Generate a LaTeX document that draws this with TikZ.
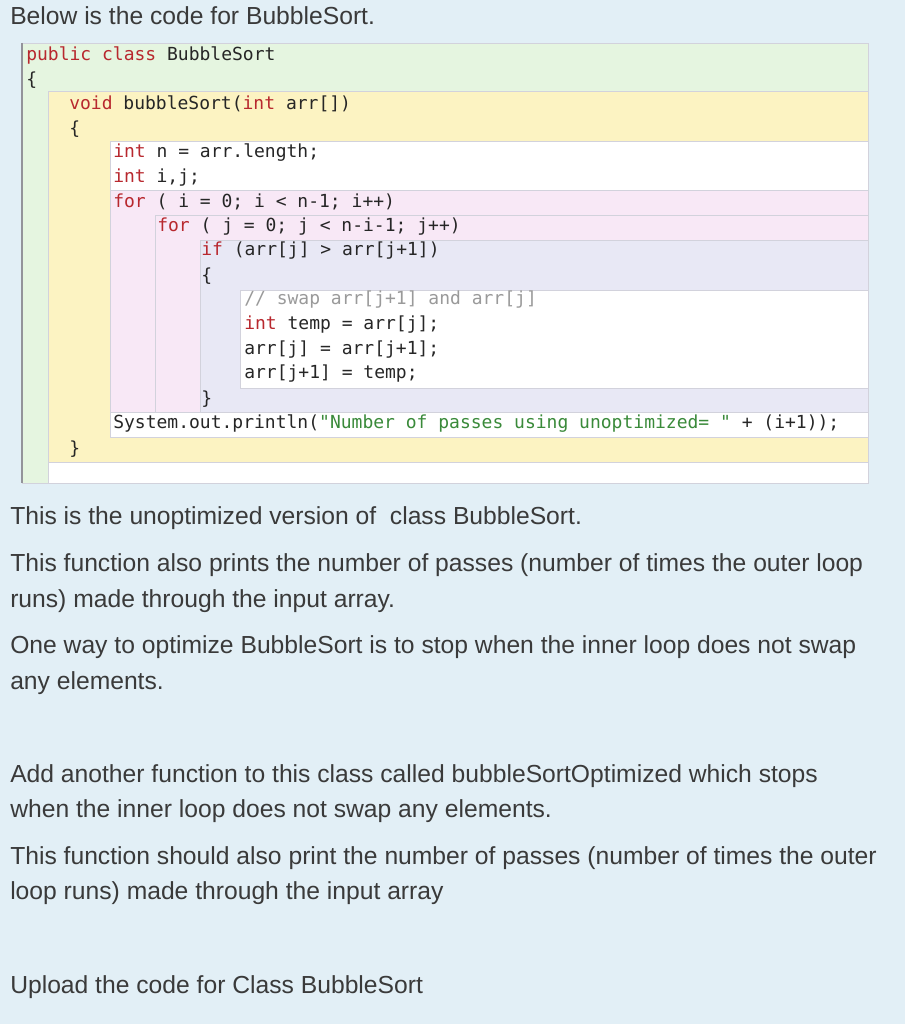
\documentclass[tikz,border=0pt]{standalone}
\usepackage{fontspec}
\setmainfont{Liberation Sans}
\setmonofont{DejaVu Sans Mono}
\definecolor{bg}{HTML}{E2EFF6}
\definecolor{txt}{HTML}{3A3A3A}
\definecolor{grn}{HTML}{E5F5E0}
\definecolor{yel}{HTML}{FCF3C2}
\definecolor{pnk}{HTML}{F8E8F6}
\definecolor{lav}{HTML}{E8E8F5}
\definecolor{edge}{HTML}{D2D2DC}
\definecolor{kw}{HTML}{B8282E}
\definecolor{cm}{HTML}{9A9A9A}
\definecolor{st}{HTML}{3A8A3A}
\tikzset{
  para/.style={anchor=west,inner sep=0pt,text=txt,font=\fontsize{18.5}{21}\selectfont},
  code/.style={anchor=west,inner sep=0pt,text=black!85,font=\ttfamily\fontsize{13.5}{15}\selectfont},
  panel/.style={draw=edge,line width=0.6pt}
}
\newcommand{\kwd}[1]{\textcolor{kw}{#1}}
\begin{document}
\begin{tikzpicture}[x=0.75pt,y=-0.75pt]
\useasboundingbox (0,0) rectangle (905,1024);
\fill[bg] (0,0) rectangle (905,1024);
\node[para] (t0) at (10,16) {Below is the code for BubbleSort.};
% panels
\fill[white] (22,43) rectangle (868,483);
\draw[panel,fill=grn] (22,43) rectangle (868,483);
\draw[edge!70!black,line width=0.8pt] (22,43) -- (22,483);
\draw[panel,fill=white] (48,462) rectangle (868,483);
\draw[panel,fill=yel] (48,91) rectangle (868,462);
\draw[panel,fill=white] (110,141) rectangle (868,190);
\draw[panel,fill=pnk] (110,190) rectangle (868,412);
\draw[panel,fill=pnk] (155,215) rectangle (868,412);
\draw[panel,fill=lav] (200,240) rectangle (868,412);
\draw[panel,fill=white] (240,290) rectangle (868,388);
\draw[panel,fill=white] (110,412) rectangle (868,437);
% code
\node[code] (c1) at (26,55) {\kwd{public} \kwd{class} BubbleSort};
\node[code] (c2) at (26,80) {\{};
\node[code] (c3) at (69,104) {\kwd{void} bubbleSort(\kwd{int} arr[])};
\node[code] (c4) at (69,129) {\{};
\node[code] (c5) at (113,153) {\kwd{int} n = arr.length;};
\node[code] (c6) at (113,178) {\kwd{int} i,j;};
\node[code] (c7) at (113,202) {\kwd{for} ( i = 0; i < n-1; i++)};
\node[code] (c8) at (157,227) {\kwd{for} ( j = 0; j < n-i-1; j++)};
\node[code] (c9) at (201,251) {\kwd{if} (arr[j] > arr[j+1])};
\node[code] (c10) at (201,276) {\{};
\node[code,text=cm] (c11) at (244,300) {// swap arr[j+1] and arr[j]};
\node[code] (c12) at (244,325) {\kwd{int} temp = arr[j];};
\node[code] (c13) at (244,350) {arr[j] = arr[j+1];};
\node[code] (c14) at (244,374) {arr[j+1] = temp;};
\node[code] (c15) at (201,399) {\}};
\node[code] (c16) at (113,424) {System.out.println(\textcolor{st}{"Number of passes using unoptimized= "} + (i+1));};
\node[code] (c17) at (69,449) {\}};
% paragraphs
\node[para] (p1) at (10,518) {This is the unoptimized version of\ \ class BubbleSort.};
\node[para] (p2) at (10,565) {This function also prints the number of passes (number of times the outer loop};
\node[para] (p3) at (10,601) {runs) made through the input array.};
\node[para] (p4) at (10,647) {One way to optimize BubbleSort is to stop when the inner loop does not swap};
\node[para] (p5) at (10,683) {any elements.};
\node[para] (p6) at (10,776) {Add another function to this class called bubbleSortOptimized which stops};
\node[para] (p7) at (10,811) {when the inner loop does not swap any elements.};
\node[para] (p8) at (10,858) {This function should also print the number of passes (number of times the outer};
\node[para] (p9) at (10,893) {loop runs) made through the input array};
\node[para] (p10) at (10,987) {Upload the code for Class BubbleSort};
\end{tikzpicture}
\end{document}
